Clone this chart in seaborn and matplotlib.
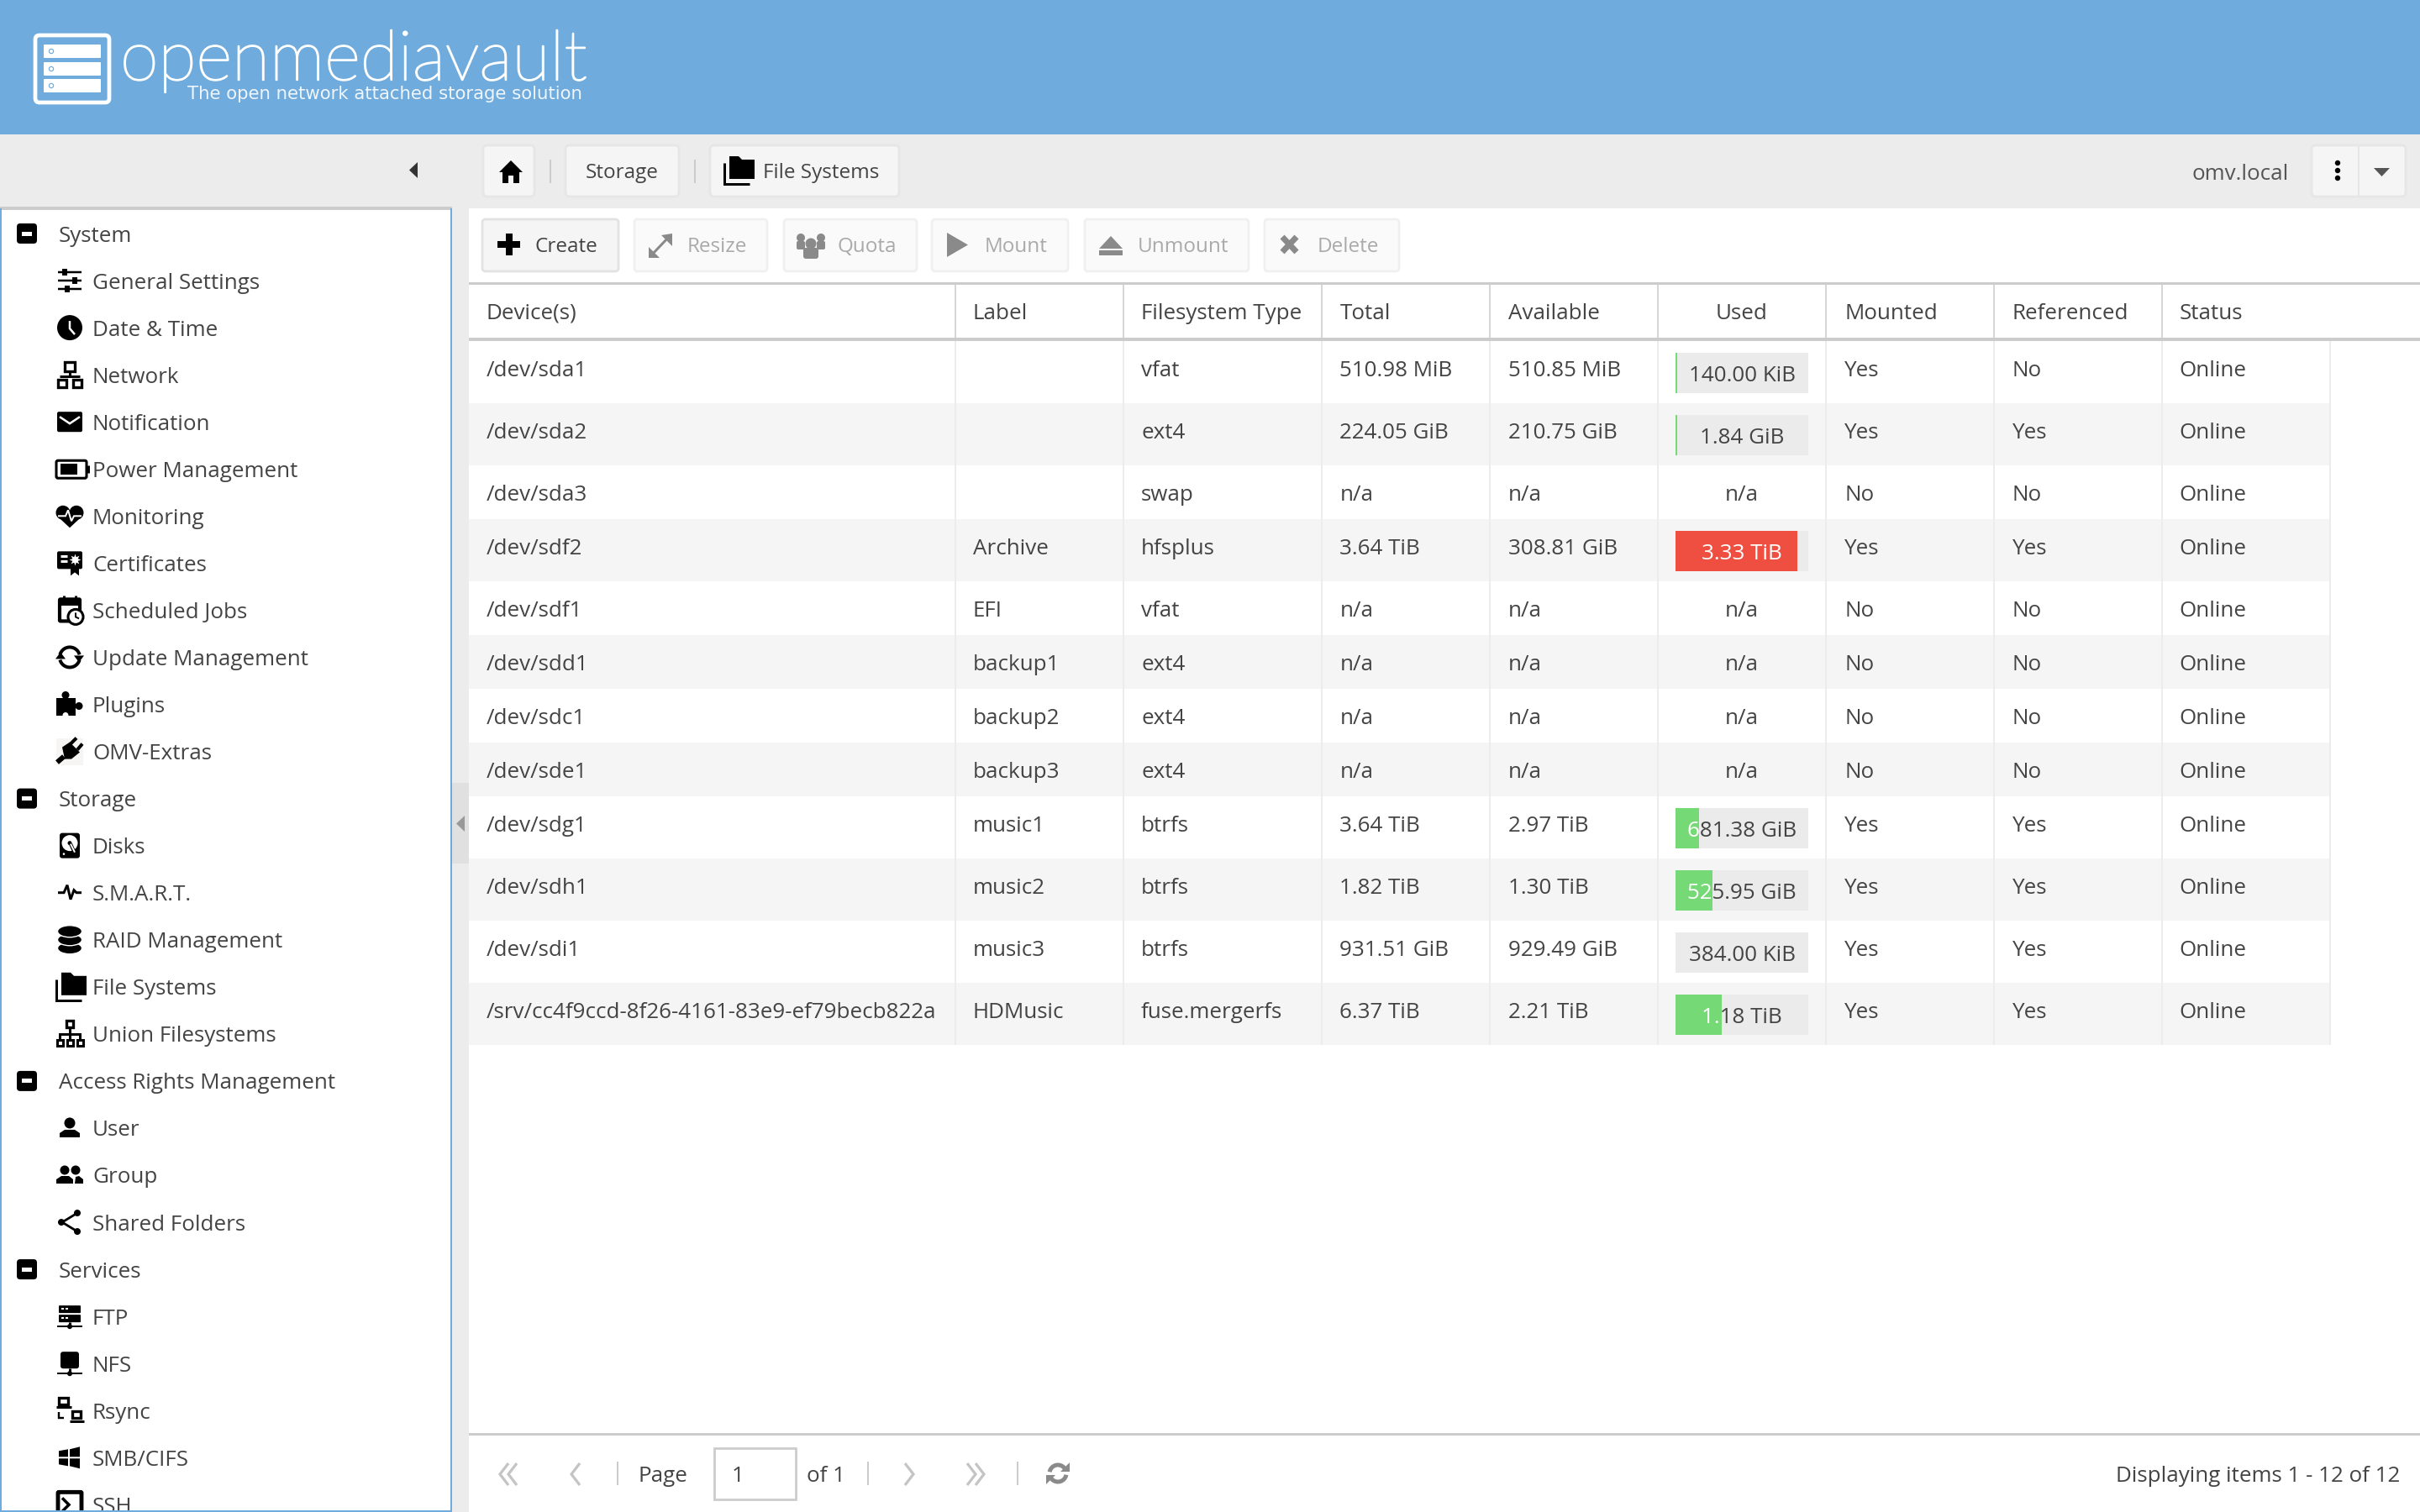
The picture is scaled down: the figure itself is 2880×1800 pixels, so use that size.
import matplotlib
matplotlib.use("Agg")
import matplotlib.patheffects as pe
import matplotlib.pyplot as plt
import numpy as np
import pandas as pd
import seaborn as sns
from matplotlib.patches import Circle, Ellipse, FancyBboxPatch, Polygon, Rectangle

# table values
devices = ["/dev/sda1", "/dev/sda2", "/dev/sda3", "/dev/sdf2", "/dev/sdf1", "/dev/sdd1", "/dev/sdc1",
           "/dev/sde1", "/dev/sdg1", "/dev/sdh1", "/dev/sdi1", "/srv/cc4f9ccd-8f26-4161-83e9-ef79becb822a"]
labels = ["", "", "", "Archive", "EFI", "backup1", "backup2", "backup3", "music1", "music2", "music3", "HDMusic"]
fs_types = ["vfat", "ext4", "swap", "hfsplus", "vfat", "ext4", "ext4", "ext4", "btrfs", "btrfs", "btrfs", "fuse.mergerfs"]
totals = ["510.98 MiB", "224.05 GiB", "n/a", "3.64 TiB", "n/a", "n/a", "n/a", "n/a",
          "3.64 TiB", "1.82 TiB", "931.51 GiB", "6.37 TiB"]
available = ["510.85 MiB", "210.75 GiB", "n/a", "308.81 GiB", "n/a", "n/a", "n/a", "n/a",
             "2.97 TiB", "1.30 TiB", "929.49 GiB", "2.21 TiB"]
used_text = ["140.00 KiB", "1.84 GiB", "n/a", "3.33 TiB", "n/a", "n/a", "n/a", "n/a",
             "681.38 GiB", "525.95 GiB", "384.00 KiB", "1.18 TiB"]
used_pct = [1.5, 1.5, None, 91.7, None, None, None, None, 17.8, 28.0, 0.0, 34.8]
mounted = ["Yes", "Yes", "No", "Yes", "No", "No", "No", "No", "Yes", "Yes", "Yes", "Yes"]
referenced = ["No", "Yes", "No", "Yes", "No", "No", "No", "No", "Yes", "Yes", "Yes", "Yes"]
status = ["Online"] * 12
headers = ["Device(s)", "Label", "Filesystem Type", "Total", "Available", "Used", "Mounted", "Referenced", "Status"]

# navigation tree, second item is the icon name
tree = [("System", None), ("General Settings", "sliders"), ("Date & Time", "clock"), ("Network", "network"),
        ("Notification", "mail"), ("Power Management", "battery"), ("Monitoring", "heart"),
        ("Certificates", "cert"), ("Scheduled Jobs", "calendar"), ("Update Management", "update"),
        ("Plugins", "plugin"), ("OMV-Extras", "plug"), ("Storage", None), ("Disks", "disk"),
        ("S.M.A.R.T.", "pulse"), ("RAID Management", "raid"), ("File Systems", "folders"),
        ("Union Filesystems", "union"), ("Access Rights Management", None), ("User", "user"),
        ("Group", "group"), ("Shared Folders", "share"), ("Services", None), ("FTP", "ftp"), ("NFS", "nfs"),
        ("Rsync", "rsync"), ("SMB/CIFS", "windows"), ("SSH", "terminal")]

# layout in screenshot pixels
row_heights = [74, 74, 64, 74, 64, 64, 64, 64, 74, 74, 74, 74]
col_edges = [558, 1137, 1337, 1573, 1773, 1973, 2173, 2373, 2573, 2773]
col_text_x = [578.5, 1158, 1358, 1594.5, 1795, 0, 2195, 2394.5, 2593.5]
table_top = 406
row_tops = table_top + np.concatenate([[0], np.cumsum(row_heights)[:-1]])
bar_centers = row_tops + 38

TEXT = "#444444"
GREY = "#ececec"
BLUE = "#6fabdc"
FONT = "Open Sans"
FS = 18.7
TEXT_DY = 2.5

sns.set_theme(style="white")
plt.rcParams["font.family"] = [FONT, "DejaVu Sans"]

fig = plt.figure(figsize=(28.8, 18), dpi=100, facecolor="white")
ax = fig.add_axes([0, 0, 1, 1])
ax.set_xlim(0, 2880)
ax.set_ylim(1800, 0)
ax.axis("off")


def rect(x0, y0, x1, y1, fc="black", ec="none", lw=0, r=0, z=2):
    if r > 0:
        p = FancyBboxPatch((x0 + r, y0 + r), x1 - x0 - 2 * r, y1 - y0 - 2 * r, boxstyle=f"round,pad={r},rounding_size={r}",
                           fc=fc, ec=ec, lw=lw, zorder=z)
    else:
        p = Rectangle((x0, y0), x1 - x0, y1 - y0, fc=fc, ec=ec, lw=lw, zorder=z)
    ax.add_patch(p)
    return p


def circ(x, y, r, fc="black", ec="none", lw=0, z=3):
    ax.add_patch(Circle((x, y), r, fc=fc, ec=ec, lw=lw, zorder=z))


def line(pts, color="black", lw=2, z=3, cap="butt"):
    xs, ys = zip(*pts)
    ax.plot(xs, ys, color=color, lw=lw * 0.72, solid_capstyle=cap, solid_joinstyle="miter", zorder=z)


def poly(pts, fc="black", z=3):
    ax.add_patch(Polygon(pts, closed=True, fc=fc, ec="none", zorder=z))


def arc(x, y, r, a0, a1, color="black", lw=3, z=3):
    t = np.radians(np.linspace(a0, a1, 30))
    line(list(zip(x + r * np.cos(t), y + r * np.sin(t))), color, lw, z)


def txt(x, y, s, color=TEXT, size=FS, ha="left", va="center", family=None, z=5, **kw):
    return ax.text(x, y + TEXT_DY, s, color=color, fontsize=size, ha=ha, va=va,
                   family=family or [FONT, "DejaVu Sans"], zorder=z, **kw)


def folders_icon(c, y, c2="black"):
    poly([(c - 10, y - 17), (c + 1, y - 17), (c + 5, y - 13), (c + 20, y - 13), (c + 20, y + 10), (c - 10, y + 10)], c2)
    line([(c - 16, y - 9), (c - 16, y + 16), (c + 14, y + 16)], c2, 3)


def icon(name, c, y):
    if name == "sliders":
        for dy, kx in [(-10, -6), (0, 6), (10, -3)]:
            line([(c - 14, y + dy), (c + 14, y + dy)], lw=2.5)
            rect(c + kx - 3, y + dy - 4, c + kx + 3, y + dy + 4)
    elif name == "clock":
        circ(c, y, 15)
        line([(c, y - 8), (c, y + 1), (c + 6, y + 8)], "white", 2.5)
    elif name == "network":
        rect(c - 6, y - 15, c + 6, y - 4, "white", "black", 2.4, z=3)
        line([(c, y - 4), (c, y + 2)], lw=3)
        line([(c - 12, y + 2), (c + 12, y + 2)], lw=3)
        for dx in (-9, 9):
            rect(c + dx - 5, y + 6, c + dx + 5, y + 15, "white", "black", 2.4, z=3)
    elif name == "mail":
        rect(c - 15, y - 12, c + 15, y + 12, r=2, z=3)
        line([(c - 12, y - 6), (c, y + 2), (c + 12, y - 6)], "white", 2.5, z=4)
    elif name == "battery":
        rect(c - 16, y - 10, c + 20, y + 11, "white", "black", 2.2, r=2, z=3)
        rect(c - 11, y - 6, c + 9, y + 7, z=4)
        line([(c + 22, y - 4), (c + 22, y + 5)], lw=3)
    elif name == "heart":
        circ(c - 8, y - 4, 8.5)
        circ(c + 8, y - 4, 8.5)
        poly([(c - 16, y - 1), (c + 16, y - 1), (c, y + 14)])
        line([(c - 14, y), (c - 5, y), (c - 2, y - 7), (c + 2, y + 6), (c + 5, y), (c + 14, y)], "white", 2, z=4)
    elif name == "cert":
        rect(c - 15, y - 14, c + 15, y + 7, r=2, z=3)
        line([(c - 11, y - 8), (c - 3, y - 8)], "white", 3, z=4)
        line([(c - 11, y - 2), (c - 3, y - 2)], "white", 3, z=4)
        ax.plot([c + 6], [y - 4], marker=(8, 1, 0), ms=10, color="white", mew=0, zorder=4)
        poly([(c + 1, y + 6), (c + 11, y + 6), (c + 11, y + 15), (c + 6, y + 11), (c + 1, y + 15)])
    elif name == "calendar":
        rect(c - 12, y - 13, c + 12, y + 13, "white", "black", 3, r=1, z=3)
        rect(c - 12, y - 13, c + 12, y - 5, z=3)
        line([(c - 7, y - 17), (c - 7, y - 12)], lw=3)
        line([(c + 7, y - 17), (c + 7, y - 12)], lw=3)
        circ(c + 7, y + 8, 9, "white", "black", 2.2, z=4)
        line([(c + 7, y + 3), (c + 7, y + 8), (c + 11, y + 10)], lw=2, z=5)
    elif name == "update":
        arc(c, y, 12, 195, 345, lw=4)
        arc(c, y, 12, 15, 165, lw=4)
        poly([(c + 5, y - 2), (c + 17, y - 2), (c + 11, y + 6)])
        poly([(c - 17, y + 2), (c - 5, y + 2), (c - 11, y - 6)])
    elif name == "plugin":
        rect(c - 16, y - 8, c + 7, y + 13, z=3)
        circ(c - 5, y - 11, 4.5)
        circ(c + 11, y + 2, 4.5)
        circ(c - 5, y + 13, 3.5, "white", z=4)
    elif name == "plug":
        rect(c - 16, y - 16, c + 16, y + 16, "#f7f5f3", z=2)
        poly([(c - 9, y - 5), (c, y - 11), (c + 12, y + 1), (c + 2, y + 9), (c - 6, y + 9)])
        line([(c - 7, y + 6), (c - 15, y + 13)], lw=6)
        line([(c + 1, y - 9), (c + 8, y - 16)], lw=4)
        line([(c + 9, y - 2), (c + 15, y - 9)], lw=4)
    elif name == "disk":
        rect(c - 12, y - 15, c + 12, y + 15, r=3, z=3)
        circ(c, y - 3, 9.5, "white", z=4)
        circ(c, y - 3, 2.5, "black", z=5)
        line([(c + 1, y - 2), (c + 6, y + 9)], "black", 4, z=5)
        line([(c + 1, y - 2), (c + 6, y + 8)], "white", 2, z=6)
        circ(c - 7, y + 10, 1.3, "white", z=5)
    elif name == "pulse":
        line([(c - 14, y), (c - 7, y), (c - 3, y - 9), (c + 1, y + 8), (c + 5, y - 3), (c + 8, y), (c + 14, y)], lw=3)
    elif name == "raid":
        for dy in (10, 0, -10):
            ax.add_patch(Ellipse((c, y + dy), 29, 14, fc="black", ec="white", lw=1, zorder=3))
    elif name == "folders":
        folders_icon(c, y)
    elif name == "union":
        rect(c - 4, y - 16, c + 4, y - 8, "white", "black", 2.4, z=3)
        line([(c, y - 8), (c, y + 6)], lw=3)
        line([(c - 12, y + 6), (c - 12, y), (c + 12, y), (c + 12, y + 6)], lw=3)
        for dx in (-12, 0, 12):
            rect(c + dx - 3.5, y + 7, c + dx + 3.5, y + 14, "white", "black", 2.2, z=3)
    elif name == "user":
        circ(c, y - 6, 6.5)
        poly([(c - 12, y + 11), (c - 12, y + 6), (c - 6, y + 2), (c + 6, y + 2), (c + 12, y + 6), (c + 12, y + 11)])
    elif name == "group":
        circ(c - 6, y - 6, 5.5)
        circ(c + 7, y - 6, 5.5)
        poly([(c - 16, y + 10), (c - 16, y + 5), (c - 10, y + 1), (c - 1, y + 1), (c + 4, y + 5), (c + 4, y + 10)])
        poly([(c + 6, y + 10), (c + 7, y + 2), (c + 11, y + 1), (c + 16, y + 5), (c + 16, y + 10)])
    elif name == "share":
        line([(c + 9, y - 11), (c - 9, y), (c + 9, y + 11)], lw=2.8)
        circ(c + 9, y - 11, 4)
        circ(c - 10, y, 4)
        circ(c + 9, y + 11, 4)
    elif name == "ftp":
        for dy in (-13, -2):
            rect(c - 13, y + dy, c + 13, y + dy + 9, r=1, z=3)
            line([(c - 10, y + dy + 4), (c - 7, y + dy + 4)], "white", 2, z=4)
            line([(c - 5, y + dy + 4), (c - 2, y + dy + 4)], "white", 2, z=4)
        line([(c, y + 7), (c, y + 12)], lw=3)
        line([(c - 15, y + 12), (c + 15, y + 12)], lw=2)
        circ(c, y + 12, 3)
    elif name == "nfs":
        rect(c - 11, y - 14, c + 11, y + 6, r=3, z=3)
        line([(c, y + 6), (c, y + 12)], lw=3)
        line([(c - 15, y + 12), (c + 15, y + 12)], lw=2)
        circ(c, y + 12, 3)
    elif name == "rsync":
        rect(c - 13, y - 15, c - 2, y - 7, "white", "black", 2.4, z=3)
        line([(c - 16, y - 4), (c + 2, y - 4)], lw=3)
        rect(c + 3, y + 1, c + 13, y + 9, "white", "black", 2.4, z=3)
        line([(c, y + 13), (c + 17, y + 13)], lw=3)
        line([(c - 13, y + 2), (c - 13, y + 9), (c - 7, y + 9)], lw=2.4)
    elif name == "windows":
        poly([(c - 13, y - 8), (c - 2, y - 10), (c - 2, y - 1), (c - 13, y - 1)])
        poly([(c, y - 10), (c + 12, y - 13), (c + 12, y - 1), (c, y - 1)])
        poly([(c - 13, y + 1), (c - 2, y + 1), (c - 2, y + 10), (c - 13, y + 8)])
        poly([(c, y + 1), (c + 12, y + 1), (c + 12, y + 13), (c, y + 10)])
    elif name == "terminal":
        rect(c - 14, y - 15, c + 14, y + 15, "white", "black", 3.5, r=1, z=3)
        line([(c - 9, y - 8), (c - 1, y), (c - 9, y + 8)], lw=3.5)
        line([(c + 1, y + 8), (c + 9, y + 8)], lw=3)


# page background
rect(0, 0, 2880, 160, BLUE, z=1)
rect(0, 160, 2880, 248, GREY, z=1)
rect(538, 248, 558, 1800, GREY, z=1)

# logo
rect(42, 42, 130, 122, BLUE, "white", 3.4, r=5, z=3)
for y0 in (53, 74, 94):
    rect(52, y0, 120, y0 + 16, "white", r=1, z=3)
    circ(61, y0 + 8, 3.2, BLUE, "none", z=4)
    circ(61, y0 + 8, 2, "white", "none", z=5)
logo = txt(143, 70.5, "openmediavault", "white", 59.5, family="Lato", weight="light")
logo.set_path_effects([pe.withStroke(linewidth=1.4, foreground="white")])
txt(223, 110, "The open network attached storage solution", "#eef5fb", 15.3, family="DejaVu Sans")

# breadcrumb bar
poly([(497, 193), (497, 212), (487, 202.5)], "#333333")
for x0, x1 in [(575, 636), (673, 808), (845, 1070), (2751, 2863)]:
    rect(x0, 173, x1, 234, "#f5f5f5", "#e6e6e6", 2, r=5, z=2)
for x in (655, 827):
    line([(x, 190), (x, 218)], "#cccccc", 2)
line([(2807, 173), (2807, 234)], "#e6e6e6", 2)
poly([(608, 191), (622, 205), (618, 205), (618, 218), (611, 218), (611, 209), (605, 209), (605, 218), (598, 218),
      (598, 205), (594, 205)])
txt(740, 204, "Storage", TEXT, 17.5, ha="center")
folders_icon(878, 203)
txt(907.5, 204, "File Systems", TEXT, 17.5)
txt(2724, 205, "omv.local", "#555555", FS, ha="right")
for y in (194, 203, 212):
    circ(2782, y, 3.2)
poly([(2825, 200), (2844, 200), (2834.5, 210)], "#555555")

# sidebar
rect(0, 248, 538, 1800, "white", z=1)
for i, (name, ic) in enumerate(tree):
    y = 278 + 56.05 * i
    if ic is None:
        rect(20, y - 12, 44, y + 12, r=4, z=3)
        rect(26, y - 2.5, 38, y + 2.5, "white", z=4)
        txt(70, y + 0.5, name, clip_on=True)
    else:
        icon(ic, 83, y)
        txt(110, y + 0.5, name, clip_on=True)
rect(0, 246, 538, 250, "#cccccc", z=8)
rect(0, 248, 2, 1800, BLUE, z=8)
rect(536, 248, 538, 1800, BLUE, z=8)
rect(0, 1798, 538, 1800, BLUE, z=8)

# splitter handle
rect(538, 932, 558, 1028, "#e0e0e0", z=2)
poly([(553, 971), (553, 990), (543, 980.5)], "#999999")

# action buttons
buttons = [("Create", 574, 736, 637), ("Resize", 755, 913, 818), ("Quota", 933, 1091, 996),
           ("Mount", 1109, 1271, 1172), ("Unmount", 1291, 1486, 1354), ("Delete", 1505, 1665, 1568)]
for j, (s, x0, x1, tx) in enumerate(buttons):
    active = j == 0
    rect(x0, 261, x1, 323, "#f5f5f5" if active else "#fafafa", "#e2e2e2" if active else "#f0f0f0", 2, r=4, z=2)
    txt(tx, 291.5, s, TEXT if active else "#aaaaaa", 17.5)
dis = "#8a8a8a"
line([(592, 291), (619, 291)], lw=8)
line([(605.5, 278), (605.5, 304)], lw=8)
line([(776, 303), (796, 282)], dis, 3)
poly([(772, 294), (772, 307), (785, 307)], dis)
poly([(800, 278), (787, 280), (800, 293)], dis)
for dx in (-12, 12):
    circ(965 + dx, 283, 5, dis)
    rect(965 + dx - 5, 287, 965 + dx + 5, 297, dis, r=2, z=3)
circ(965, 290, 6.5, dis)
rect(956, 295, 974, 308, dis, r=3, z=4)
poly([(1127, 277), (1127, 306), (1152, 291.5)], dis)
poly([(1322, 281), (1336, 296), (1308, 296)], dis)
rect(1308, 298, 1336, 304, dis, z=3)
line([(1526, 282), (1543, 300)], dis, 7)
line([(1543, 282), (1526, 300)], dis, 7)

# table grid
rect(558, 248, 2880, 336, "white", z=1)
rect(558, 336, 2880, 339, "#cccccc", z=3)
rect(558, 402, 2880, 406, "#cccccc", z=3)
for x in col_edges[1:-1]:
    line([(x, 339), (x, 402)], "#cccccc", 1.6, z=3)
for x in col_edges[1:]:
    line([(x, 406), (x, sum(row_heights) + table_top)], "#ececec", 2, z=3)
for r, top in enumerate(row_tops):
    if r % 2 == 1:
        rect(558, top, col_edges[-1], top + row_heights[r], "#f5f5f5", z=2)

# headers and cells
used_center = (col_edges[5] + col_edges[6]) / 2
for name, x in zip(headers, col_text_x):
    if name == "Used":
        txt(used_center, 370.5, name, ha="center")
    else:
        txt(x, 370.5, name)
columns = [devices, labels, fs_types, totals, available, None, mounted, referenced, status]
for cells, x in zip(columns, col_text_x):
    if cells is None:
        continue
    for top, s in zip(row_tops, cells):
        if s:
            txt(x, top + 33, s)

# used bars, drawn on their own percent axis lined up with the Used column
used_df = pd.DataFrame({"center": bar_centers, "pct": used_pct, "text": used_text})
used_df = used_df.dropna(subset=["pct"])
used_df["level"] = ["high" if p > 85 else "ok" for p in used_df["pct"]]
used_df["track"] = 100

bar_ax = fig.add_axes([1994 / 2880, 0, 158 / 2880, 1])
bar_ax.patch.set_alpha(0)
sns.barplot(data=used_df, x="track", y="center", orient="y", native_scale=True, color="#ebebeb", saturation=1,
            width=48 / 74, errorbar=None, linewidth=0, ax=bar_ax)
n_track = len(bar_ax.patches)
sns.barplot(data=used_df, x="pct", y="center", orient="y", native_scale=True, hue="level", dodge=False, saturation=1,
            palette={"high": "#ef4f41", "ok": "#75d975"}, width=48 / 74, errorbar=None, legend=False, linewidth=0,
            ax=bar_ax)
bar_ax.set_xlim(0, 100)
bar_ax.set_ylim(1800, 0)
bar_ax.axis("off")

fills = list(bar_ax.patches[n_track:])
for top, s, pct in zip(row_tops, used_text, used_pct):
    if pct is None:
        txt(used_center, top + 33, s, ha="center")
        continue
    yc = top + 38
    high = pct > 85
    bar_ax.text(used_center, yc + 4, s, color="white" if high else TEXT, fontsize=FS, ha="center", va="center",
                transform=ax.transData, zorder=6)
    if high:
        continue
    # part of the label over the green fill turns white
    for p in fills:
        if abs(p.get_y() + p.get_height() / 2 - yc) < 1 and p.get_width() > 3:
            light = bar_ax.text(used_center, yc + 4, s, color="white", fontsize=FS, ha="center", va="center",
                                transform=ax.transData, zorder=7, clip_on=True)
            cover = bar_ax.add_patch(Rectangle((p.get_x(), p.get_y()), p.get_width(), p.get_height(),
                                               fc=p.get_facecolor(), ec="none", zorder=6.5))
            light.set_clip_path(cover)

# paging toolbar
rect(558, 1706, 2880, 1708.5, "#cccccc", z=3)
for x in (735, 1033, 1211):
    line([(x, 1740), (x, 1768)], "#cccccc", 2)
chev = "#c4c4c4"
for x, d in [(600, -1), (610, -1), (685, -1), (1082, 1), (1156, 1), (1166, 1)]:
    line([(x - d * 5, 1742), (x + d * 5, 1755), (x - d * 5, 1768)], chev, 3.2)
txt(760, 1755, "Page")
rect(850, 1724, 947, 1785, "white", "#cccccc", 2, z=3)
txt(871, 1755, "1")
txt(960, 1755, "of 1")
arc(1259, 1754, 10, 190, 330, "#8a8a8a", 5)
arc(1259, 1754, 10, 10, 150, "#8a8a8a", 5)
poly([(1273, 1741), (1273, 1752), (1262, 1752)], "#8a8a8a")
poly([(1245, 1767), (1245, 1756), (1256, 1756)], "#8a8a8a")
txt(2856, 1755, "Displaying items 1 - 12 of 12", ha="right")

fig.savefig("out.png", dpi=100)
